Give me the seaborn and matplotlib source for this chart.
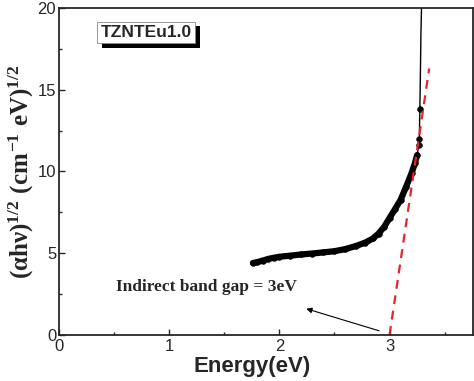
import numpy as np
import pandas as pd
import matplotlib
matplotlib.use("Agg")
import matplotlib.pyplot as plt
import matplotlib.patheffects as pe
import seaborn as sns

# values
energy = [1.76, 1.80, 1.85, 1.90, 1.95, 2.00, 2.10, 2.20, 2.30, 2.40, 2.50, 2.60,
          2.70, 2.78, 2.85, 2.90, 2.95, 3.00, 3.05, 3.10, 3.15, 3.20, 3.23, 3.25,
          3.265, 3.27, 3.275, 3.28, 3.285, 3.29]
ahv = [4.40, 4.45, 4.55, 4.65, 4.72, 4.78, 4.85, 4.92, 4.98, 5.05, 5.12, 5.25,
       5.45, 5.65, 5.90, 6.20, 6.60, 7.15, 7.70, 8.26, 9.06, 9.90, 10.50, 11.00,
       11.60, 12.00, 13.80, 16.00, 18.50, 20.00]
fit_x = [3.0, 3.36]
fit_y = [0.0, 16.3]

df = pd.DataFrame({"E": energy, "y": ahv})
dots = df[df["y"] <= 14]
thick = df[df["y"] <= 11]

sns.set_style("ticks")
plt.rcParams["font.family"] = ["Liberation Sans", "DejaVu Sans"]
plt.rcParams["mathtext.fontset"] = "custom"
plt.rcParams["mathtext.rm"] = "Liberation Serif:bold"
plt.rcParams["mathtext.it"] = "Liberation Serif:bold"
plt.rcParams["mathtext.bf"] = "Liberation Serif:bold"

fig = plt.figure(figsize=(4.74, 3.81), dpi=100)
ax = fig.add_axes([0.1245, 0.121, 0.874, 0.858])

sns.lineplot(data=df, x="E", y="y", ax=ax, color="black", lw=1, sort=False)
sns.lineplot(data=thick, x="E", y="y", ax=ax, color="black", lw=4.5, sort=False)
sns.scatterplot(data=dots, x="E", y="y", ax=ax, color="black", s=18, edgecolor="black")
ax.plot(fit_x, fit_y, color="#e8232a", lw=1.6, ls=(0, (4, 3)))

ax.annotate("", xy=(2.22, 1.65), xytext=(2.93, 0.2),
            arrowprops=dict(arrowstyle="-|>", color="black", lw=0.8, mutation_scale=8))
ax.text(0.52, 2.9, "Indirect band gap = 3eV", family="Liberation Serif",
        fontweight="bold", fontsize=12.5, va="center")

# label box with shadow
lbl = ax.text(0.38, 18.5, "TZNTEu1.0", fontsize=12.5, fontweight="bold", va="center",
              bbox=dict(boxstyle="square,pad=0.2", fc="white", ec="#888888", lw=0.6))
lbl.get_bbox_patch().set_path_effects([
    pe.SimplePatchShadow(offset=(3, -3), shadow_rgbFace="black", alpha=1),
    pe.Normal()])

ax.set_xlim(0, 3.76)
ax.set_ylim(0, 20)
ax.set_xticks([0, 1, 2, 3])
ax.set_xticks(np.arange(0.5, 3.76, 1.0), minor=True)
ax.set_yticks([0, 5, 10, 15, 20])
ax.set_yticks([2.5, 7.5, 12.5, 17.5], minor=True)
ax.tick_params(which="both", direction="in", labelsize=12, width=1)
ax.tick_params(which="major", length=4)
ax.tick_params(which="minor", length=2.5)
ax.tick_params(axis="x", pad=3)
ax.tick_params(axis="y", pad=2)
for sp in ax.spines.values():
    sp.set_linewidth(1.3)
    sp.set_visible(True)

ax.set_xlabel("Energy(eV)", fontsize=16, fontweight="bold", labelpad=-1)
ax.xaxis.set_label_coords(0.465, -0.065)
ax.set_ylabel(r"$(\alpha h\nu)^{1/2}\ (cm^{-1}\ eV)^{1/2}$", fontsize=18, labelpad=0)
ax.yaxis.set_label_coords(-0.055, 0.5)

fig.savefig("out.png", dpi=100)
